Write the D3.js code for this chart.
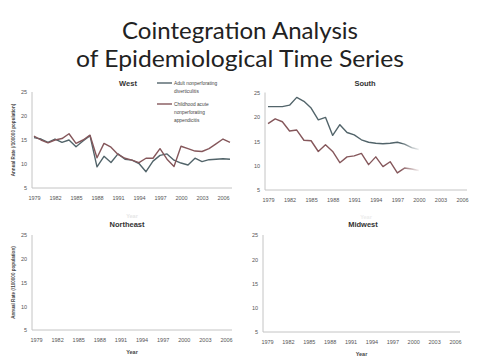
<!DOCTYPE html>
<html><head><meta charset="utf-8">
<script src="https://cdn.jsdelivr.net/npm/d3@7/dist/d3.min.js"></script>
<style>
body{margin:0;background:#fff}
svg{display:block}
text{font-family:"Liberation Sans",Arial,sans-serif}
</style>
</head><body>
<svg id="c" width="480" height="360"></svg>
<script>
// ---------- data ----------
const titleLines = ["Cointegration Analysis", "of Epidemiological Time Series"];
const seriesNames = ["Adult nonperforating diverticulitis", "Childhood acute nonperforating appendicitis"];
const tickYears = [1979, 1982, 1985, 1988, 1991, 1994, 1997, 2000, 2003, 2006];
const yTicks = [5, 10, 15, 20, 25];

const westYears = [1979,1980,1981,1982,1983,1984,1985,1986,1987,1988,1989,1990,1991,1992,1993,
                   1994,1995,1996,1997,1998,1999,2000,2001,2002,2003,2004,2005,2006,2007];
const westAdult = [15.5,15.2,14.5,15.2,14.5,15.0,13.6,14.8,15.9,9.4,11.6,10.3,12.1,11.0,10.8,
                   10.1,8.4,10.6,11.8,12.1,10.8,10.2,9.8,11.2,10.5,10.9,11.0,11.1,11.0];
const westChild = [15.8,15.0,14.4,15.0,15.3,16.3,14.3,15.0,16.0,11.3,14.3,13.5,12.0,11.2,10.8,
                   10.3,11.2,11.2,13.2,11.0,9.5,13.7,13.2,12.7,12.6,13.2,14.2,15.2,14.5];

const southYears = [1979,1980,1981,1982,1983,1984,1985,1986,1987,1988,1989,
                    1990,1991,1992,1993,1994,1995,1996,1997,1998,1999,2000];
const southAdult = [22.1,22.1,22.1,22.4,24.0,23.2,21.8,19.4,19.9,16.2,18.4,
                    16.8,16.3,15.3,14.8,14.6,14.5,14.6,14.8,14.4,13.7,13.3];
const southChild = [18.6,19.6,19.0,17.1,17.3,15.2,15.1,12.9,14.3,12.9,10.6,
                    11.8,12.0,12.5,10.2,11.8,9.8,10.8,8.5,9.5,9.3,9.0];

const yLabel = "Annual Rate (/100000 population)";
const xLabel = "Year";

// ---------- styles ----------
const colAdult = "#52646a";
const colChild = "#85575b";
const axisCol = "#c4c4c4";
const tickCol = "#555";

const svg = d3.select("#c");

// main title
svg.append("text").attr("x", 240).attr("y", 39).attr("text-anchor", "middle")
  .style("font-family", "Lato, 'Open Sans', sans-serif").style("font-size", "23px").attr("fill", "#222")
  .attr("textLength", 236).attr("lengthAdjust", "spacingAndGlyphs").text(titleLines[0]);
svg.append("text").attr("x", 240).attr("y", 67).attr("text-anchor", "middle")
  .style("font-family", "Lato, 'Open Sans', sans-serif").style("font-size", "23px").attr("fill", "#222")
  .attr("textLength", 328).attr("lengthAdjust", "spacingAndGlyphs").text(titleLines[1]);

const panels = [
  {name:"West", axisX:32, x0:34, x1:223, right:232, yTop:92, yBot:188, tx:128, ty:86, ylab:true, xlabCol:"#e6e6e6", xlabY:218,
   series:[{years:westYears, vals:westAdult, col:colAdult},{years:westYears, vals:westChild, col:colChild}]},
  {name:"South", axisX:265, x0:268, x1:462, right:467, yTop:92.5, yBot:190, tx:365, ty:86, ylab:false, xlabCol:"#ececec", xlabY:219,
   series:[{years:southYears, vals:southAdult, col:colAdult, fade:true},{years:southYears, vals:southChild, col:colChild, fade:true}]},
  {name:"Northeast", axisX:32, x0:36, x1:226, right:232, yTop:235, yBot:330, tx:127, ty:227, ylab:true, xlabCol:"#444", xlabY:354, series:[]},
  {name:"Midwest", axisX:263, x0:267, x1:455, right:460, yTop:235, yBot:332, tx:363, ty:227, ylab:false, xlabCol:"#444", xlabY:356, series:[]}
];

const defs = svg.append("defs");

panels.forEach((p, pi) => {
  const x = d3.scaleLinear().domain([tickYears[0], tickYears[tickYears.length-1]]).range([p.x0, p.x1]);
  const y = d3.scaleLinear().domain([5, 25]).range([p.yBot, p.yTop]);
  const g = svg.append("g");

  // axis lines
  g.append("line").attr("x1", p.axisX).attr("x2", p.axisX).attr("y1", p.yTop).attr("y2", p.yBot)
    .attr("stroke", axisCol).attr("stroke-width", 1);
  g.append("line").attr("x1", p.axisX).attr("x2", p.right).attr("y1", p.yBot).attr("y2", p.yBot)
    .attr("stroke", axisCol).attr("stroke-width", 1);

  // y axis ticks
  const ya = d3.axisLeft(y).tickValues(yTicks).tickSize(0).tickPadding(5);
  const yg = g.append("g").attr("transform", `translate(${p.axisX},0)`).call(ya);
  yg.select(".domain").remove();
  yg.selectAll("text").style("font-size", "5.5px").attr("fill", tickCol);

  // x axis ticks
  const xa = d3.axisBottom(x).tickValues(tickYears).tickFormat(d3.format("d")).tickSize(0).tickPadding(8);
  const xg = g.append("g").attr("transform", `translate(0,${p.yBot})`).call(xa);
  xg.select(".domain").remove();
  xg.selectAll("text").style("font-size", "5.5px").attr("fill", tickCol);

  // panel title
  g.append("text").attr("x", p.tx).attr("y", p.ty).attr("text-anchor", "middle")
    .style("font-size", "7.5px").style("font-weight", "bold").attr("fill", "#333").text(p.name);

  // y label
  if (p.ylab) {
    const cy = (p.yTop + p.yBot) / 2;
    g.append("text").attr("transform", `translate(15,${cy}) rotate(-90)`).attr("text-anchor", "middle")
      .style("font-size", "4.6px").style("font-weight", "bold").attr("fill", "#444").text(yLabel);
  }
  // x label
  g.append("text").attr("x", (p.axisX + p.right) / 2).attr("y", p.xlabY).attr("text-anchor", "middle")
    .style("font-size", "5.5px").style("font-weight", "bold").attr("fill", p.xlabCol).text(xLabel);

  // series
  p.series.forEach((s, si) => {
    const pts = s.years.map((yr, i) => [yr, s.vals[i]]);
    let stroke = s.col;
    if (s.fade) {
      const id = `fade${pi}_${si}`;
      const gr = defs.append("linearGradient").attr("id", id).attr("gradientUnits", "userSpaceOnUse")
        .attr("x1", x(1997.5)).attr("x2", x(2000)).attr("y1", 0).attr("y2", 0);
      gr.append("stop").attr("offset", 0).attr("stop-color", s.col).attr("stop-opacity", 1);
      gr.append("stop").attr("offset", 1).attr("stop-color", s.col).attr("stop-opacity", 0.08);
      stroke = `url(#${id})`;
    }
    g.append("path").datum(pts)
      .attr("d", d3.line().x(d => x(d[0])).y(d => y(d[1])))
      .attr("fill", "none").attr("stroke", stroke).attr("stroke-width", 1.4).attr("stroke-linejoin", "round");
  });
});

// legend (West panel)
const legend = [
  {lines:["Adult nonperforating", "diverticulitis"], col:colAdult, y:83},
  {lines:["Childhood acute", "nonperforating", "appendicitis"], col:colChild, y:104}
];
legend.forEach((l, i) => {
  svg.append("line").attr("x1", 157).attr("x2", 172).attr("y1", l.y).attr("y2", l.y)
    .attr("stroke", l.col).attr("stroke-width", 1.4);
  const t = svg.append("text").attr("x", 174).attr("y", l.y + 1.7).style("font-size", "4.8px").attr("fill", "#444");
  l.lines.forEach((ln, j) => t.append("tspan").attr("x", 174).attr("dy", j === 0 ? 0 : 8.2).text(ln));
});
</script>
</body></html>
